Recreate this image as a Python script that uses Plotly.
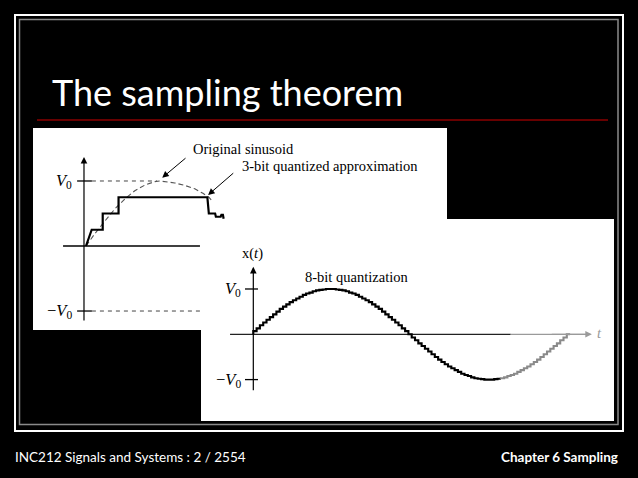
import plotly.graph_objects as go

# ---- data ----
# 3-bit figure: time in quarter periods, value in units of V0
sine_t = [0, 0.12, 0.26, 0.39, 0.53, 0.66, 0.80, 0.93, 1.0, 1.07, 1.20, 1.34, 1.47, 1.58, 1.66, 1.70]
sine_v = [0, 0.19, 0.39, 0.57, 0.73, 0.85, 0.94, 0.99, 1.0, 0.99, 0.97, 0.93, 0.88, 0.81, 0.75, 0.70]

q3_t = [0, 0.077, 0.226, 0.226, 0.44, 0.44, 1.64, 1.66, 1.745, 1.755, 1.82, 1.83, 1.85, 1.86]
q3_v = [0, 0.25, 0.25, 0.5, 0.5, 0.75, 0.75, 0.5, 0.5, 0.45, 0.45, 0.48, 0.48, 0.42]

# 8-bit figure: sample index (24 samples per quarter period), value in V0
q8_v = [0, 0.07, 0.13, 0.20, 0.26, 0.32, 0.38, 0.44, 0.50, 0.56, 0.61, 0.66, 0.71, 0.75, 0.79, 0.83,
        0.87, 0.90, 0.92, 0.95, 0.97, 0.98, 0.99, 1.0, 1.0,
        1.0, 0.99, 0.98, 0.97, 0.95, 0.92, 0.90, 0.87, 0.83, 0.79, 0.75, 0.71, 0.66, 0.61, 0.56,
        0.50, 0.44, 0.38, 0.32, 0.26, 0.20, 0.13, 0.07, 0,
        -0.07, -0.13, -0.20, -0.26, -0.32, -0.38, -0.44, -0.50, -0.56, -0.61, -0.66, -0.71, -0.75, -0.79, -0.83,
        -0.87, -0.90, -0.92, -0.95, -0.97, -0.98, -0.99, -1.0, -1.0,
        -1.0, -0.99, -0.98, -0.97, -0.95, -0.92, -0.90, -0.87, -0.83, -0.79, -0.75, -0.71, -0.66, -0.61, -0.56,
        -0.50, -0.44, -0.38, -0.32, -0.26, -0.20, -0.13, -0.07, 0]
q8_k = list(range(len(q8_v)))
fade_from = 75

title = "The sampling theorem"
footer_left = "INC212 Signals and Systems : 2 / 2554"
footer_right = "Chapter 6 Sampling"

W, H = 638, 478


def px(x):
    return x / W


def py(y):
    return 1 - y / H


serif = "Liberation Serif"
comic = "Comic Sans MS, Lato, sans-serif"

fig = go.Figure()


def seg(x, y, xa, ya, color="black", width=1.3, dash="solid"):
    fig.add_trace(go.Scatter(x=x, y=y, mode="lines", xaxis=xa, yaxis=ya,
                             line=dict(color=color, width=width, dash=dash),
                             hoverinfo="skip"))


# ---- figure 1 (3-bit) ----
seg([-0.31, 1.54], [0, 0], "x", "y")
seg([-0.12, 0.08], [1, 1], "x", "y")
seg([-0.12, 0.08], [-1, -1], "x", "y")
seg([0.08, 0.96], [1, 1], "x", "y", color="#444", width=1, dash="4px,4px")
seg([0.08, 1.54], [-1, -1], "x", "y", color="#444", width=1, dash="4px,4px")
seg(sine_t, sine_v, "x", "y", color="#555", width=1.1, dash="5px,3px")
seg(q3_t, q3_v, "x", "y", color="black", width=2.2)

# ---- figure 2 (8-bit) ----
seg([-7.05, 78], [0, 0], "x2", "y2", color="#222", width=1.3)
seg([78, 101], [0, 0], "x2", "y2", color="#9a9a9a", width=1.3)
seg([-2.52, 1.43], [1, 1], "x2", "y2")
seg([-2.52, 1.43], [-1, -1], "x2", "y2")
fig.add_trace(go.Scatter(x=q8_k[:fade_from + 1], y=q8_v[:fade_from + 1], mode="lines",
                         xaxis="x2", yaxis="y2", line=dict(color="black", width=2.1, shape="vh"),
                         hoverinfo="skip"))
fig.add_trace(go.Scatter(x=q8_k[fade_from:], y=q8_v[fade_from:], mode="lines",
                         xaxis="x2", yaxis="y2", line=dict(color="#8a8a8a", width=2.1, shape="vh"),
                         hoverinfo="skip"))

ann = []


def arrow(xh, yh, xt, yt, xr, yr, color="black", head=2, width=1.2, size=1.1):
    ann.append(dict(x=xh, y=yh, ax=xt, ay=yt, xref=xr, yref=yr, axref=xr, ayref=yr,
                    text="", showarrow=True, arrowhead=head, arrowsize=size,
                    arrowwidth=width, arrowcolor=color))


def label(x, y, text, xr, yr, size=14.5, anchor="left", color="black", family=serif):
    ann.append(dict(x=x, y=y, xref=xr, yref=yr, text=text, showarrow=False,
                    xanchor=anchor, yanchor="middle",
                    font=dict(family=family, size=size, color=color)))


# axis arrows
arrow(-0.027, 1.37, -0.027, -1.17, "x", "y")
arrow(0, 1.49, 0, -1.27, "x2", "y2")
arrow(102.6, 0, 90, 0, "x2", "y2", color="#9a9a9a")
# pointer arrows
arrow(1.03, 1.05, 1.365, 1.37, "x", "y", head=2, width=1, size=1.3)
arrow(1.65, 0.785, 2.01, 1.14, "x", "y", head=2, width=1, size=1.3)

label(-0.16, 1.0, "<i>V</i><sub>0</sub>", "x", "y", size=16.5, anchor="right")
label(-0.16, -1.0, "−<i>V</i><sub>0</sub>", "x", "y", size=16.5, anchor="right")
label(1.42, 1.49, "Original sinusoid", "x", "y")
label(2.08, 1.23, "3-bit quantized approximation", "x", "y")

label(-3.0, 1.0, "<i>V</i><sub>0</sub>", "x2", "y2", size=16.5, anchor="right")
label(-3.0, -1.0, "−<i>V</i><sub>0</sub>", "x2", "y2", size=16.5, anchor="right")
label(-0.39, 1.79, "x(<i>t</i>)", "x2", "y2", anchor="center")
label(31.3, 1.27, "8-bit quantization", "x2", "y2", anchor="center")
label(103.4, 0.02, "<i>t</i>", "x2", "y2", color="#999")

# slide text
ann.append(dict(x=px(50), y=py(92), xref="paper", yref="paper", text=title, showarrow=False,
                xanchor="left", yanchor="middle", font=dict(family=comic, size=36, color="white")))
ann.append(dict(x=px(13), y=py(457), xref="paper", yref="paper", text=footer_left, showarrow=False,
                xanchor="left", yanchor="middle", font=dict(family=comic, size=13.5, color="white")))
ann.append(dict(x=px(620), y=py(457), xref="paper", yref="paper", text="<b>" + footer_right + "</b>",
                showarrow=False, xanchor="right", yanchor="middle",
                font=dict(family=comic, size=13.5, color="white")))

shapes = [
    dict(type="rect", xref="paper", yref="paper", x0=px(15), x1=px(623), y0=py(15), y1=py(431),
         line=dict(color="white", width=2)),
    dict(type="rect", xref="paper", yref="paper", x0=px(19.5), x1=px(618), y0=py(19.5), y1=py(424.5),
         line=dict(color="#8a8a8a", width=1.5)),
    dict(type="line", xref="paper", yref="paper", x0=px(37), x1=px(608), y0=py(120), y1=py(120),
         line=dict(color="#8b0000", width=1.5)),
]

axis_off = dict(showgrid=False, zeroline=False, showticklabels=False, ticks="", showline=False,
                fixedrange=True)

fig.update_layout(
    width=W, height=H, margin=dict(l=0, r=0, t=0, b=0),
    paper_bgcolor="black", plot_bgcolor="white", showlegend=False,
    xaxis=dict(domain=[px(33), px(447)], range=[-0.716, 4.878], anchor="y", **axis_off),
    yaxis=dict(domain=[py(330), py(128)], range=[-1.292, 1.815], anchor="x", **axis_off),
    xaxis2=dict(domain=[px(201), px(614)], range=[-15.85, 109.3], anchor="y2", **axis_off),
    yaxis2=dict(domain=[py(421), py(219)], range=[-1.914, 2.545], anchor="x2", **axis_off),
    annotations=ann, shapes=shapes,
)

fig.write_html("out.html", config={"displayModeBar": False},
               post_script="document.body.style.margin='0';document.body.style.background='black';")
